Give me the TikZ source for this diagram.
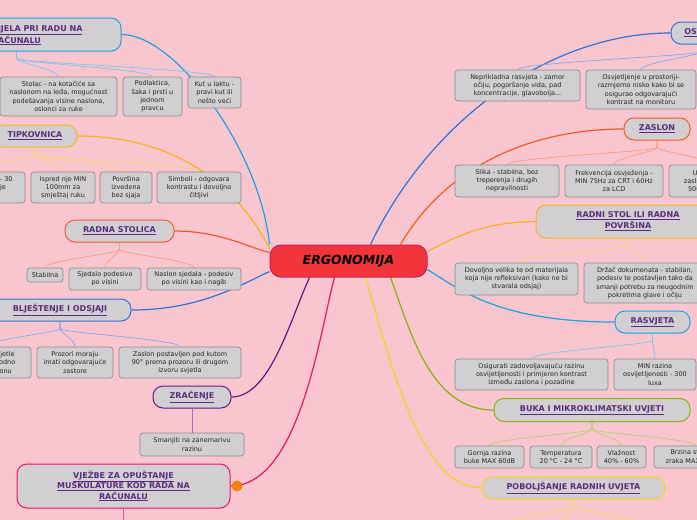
\documentclass[tikz,border=0pt]{standalone}
\usepackage{fontspec}
\setmainfont{DejaVu Sans}
\pgfdeclarelayer{background}
\pgfsetlayers{background,main}
\begin{document}
\begin{tikzpicture}[x=1pt,y=-1pt,
  leaf/.style={draw=black!45,fill=nodegray,rounded corners=3pt,line width=0.7pt,align=center,inner sep=1pt,font=\fontsize{6.5}{8.2}\selectfont,text=black!85},
  topic/.style={fill=nodegray,rounded corners=10pt,line width=1pt,align=center,inner sep=1pt,font=\fontsize{8}{11}\selectfont\bfseries,text=topictext},
  conn/.style={line width=1.2pt},
  sub/.style={line width=0.7pt}]
\definecolor{bg}{HTML}{F9C6D0}
\definecolor{nodegray}{HTML}{D1CFD1}
\definecolor{topictext}{HTML}{5C2D7E}
\definecolor{cblue}{HTML}{1BA1E2}
\definecolor{cdblue}{HTML}{2F72D8}
\definecolor{corange}{HTML}{F5B515}
\definecolor{cred}{HTML}{F55A22}
\definecolor{cpurple}{HTML}{5D1A7F}
\definecolor{cpink}{HTML}{EB1269}
\definecolor{cgreen}{HTML}{86B30A}
\definecolor{cyellow}{HTML}{F0D51C}
\newcommand\brnch[3]{\draw[sub,#1] (#2.south) -- ++(0,7) .. controls +(0,4) and +(0,-7) .. (#3.north);}
\useasboundingbox (0,0) rectangle (697,520);

% central
\node[fill={rgb,255:red,242;green,53;blue,58},draw={rgb,255:red,200;green,30;blue,90},line width=1pt,rounded corners=11pt,minimum width=157pt,minimum height=32pt,font=\fontsize{12.5}{14}\selectfont\bfseries\itshape] (erg) at (348.5,261) {ERGONOMIJA};

% topics
\node[topic,draw=cblue,minimum width=209pt,minimum height=33pt] (p1) at (16.5,34.5) {\underline{POLOŽAJ TIJELA PRI RADU NA}\\\underline{RAČUNALU}};
\node[topic,draw=corange,minimum width=84pt,minimum height=22pt] (tip) at (35,136) {\underline{TIPKOVNICA}};
\node[topic,draw=cred,minimum width=109pt,minimum height=22pt] (rs) at (119.5,231) {\underline{RADNA STOLICA}};
\node[topic,draw=cdblue,minimum width=142pt,minimum height=22pt] (bl) at (60,310) {\underline{BLJEŠTENJE I ODSJAJI}};
\node[topic,draw=cpurple,minimum width=78pt,minimum height=22pt] (zr) at (192,397) {\underline{ZRAČENJE}};
\node[topic,draw=cpink,minimum width=213pt,minimum height=44pt,font=\fontsize{8}{10.5}\selectfont\bfseries] (vj) at (123.5,486) {\underline{VJEŽBE ZA OPUŠTANJE}\\\underline{MUSKULATURE KOD RADA NA}\\\underline{RAČUNALU}};
\node[topic,draw=cdblue,minimum width=62pt,minimum height=22pt] (ost) at (702,33) {\underline{OSTALO}};
\node[topic,draw=cred,minimum width=66pt,minimum height=22pt] (zas) at (657,129) {\underline{ZASLON}};
\node[topic,draw=corange,minimum width=184pt,minimum height=33pt] (rst) at (628,221.5) {\underline{RADNI STOL ILI RADNA}\\\underline{POVRŠINA}};
\node[topic,draw=cblue,minimum width=75pt,minimum height=22pt] (ras) at (652.5,322) {\underline{RASVJETA}};
\node[topic,draw=cgreen,minimum width=196pt,minimum height=23pt] (buka) at (592,410) {\underline{BUKA I MIKROKLIMATSKI UVJETI}};
\node[topic,draw=cyellow,minimum width=183pt,minimum height=22pt] (pob) at (573.5,488) {\underline{POBOLJŠANJE RADNIH UVJETA}};

% leaves left
\node[leaf,minimum width=117pt,minimum height=39pt] (a1) at (58.5,96.5) {Stolac - na kotačiće sa\\naslonom na leđa, mogućnost\\podešavanja visine naslona,\\oslonci za ruke};
\node[leaf,minimum width=59pt,minimum height=39pt] (a2) at (152.5,96.5) {Podlaktica,\\šaka i prsti u\\jednom\\pravcu};
\node[leaf,minimum width=53pt,minimum height=31pt] (a3) at (214.5,92.5) {Kut u laktu -\\pravi kut ili\\nešto veći};
\node[leaf,minimum width=100pt,minimum height=31pt] (t1) at (-25,187.5) {Nagib tipkovnice 5 - 30\\stupnjeva ili manje\\ };
\node[leaf,minimum width=64pt,minimum height=31pt] (t2) at (63,187.5) {Ispred nje MIN\\100mm za\\smještaj ruku};
\node[leaf,minimum width=52pt,minimum height=31pt] (t3) at (126,187.5) {Površina\\izvedena\\bez sjaja};
\node[leaf,minimum width=84pt,minimum height=31pt] (t4) at (199,187.5) {Simboli - odgovara\\kontrastu i dovoljno\\čitljivi};
\node[leaf,minimum width=36pt,minimum height=14pt] (s1) at (45,275) {Stabilna};
\node[leaf,minimum width=72pt,minimum height=22pt] (s2) at (105,279) {Sjedalo podesivo\\po visini};
\node[leaf,minimum width=94pt,minimum height=22pt] (s3) at (194,279) {Naslon sjedala - podesiv\\po visini kao i nagib};
\node[leaf,minimum width=92pt,minimum height=31pt] (b1) at (-15,362.5) {Izbjegavati svjetle\\površine, pogodno\\okrenuti zaslonu};
\node[leaf,minimum width=76pt,minimum height=31pt] (b2) at (75,362.5) {Prozori moraju\\imati odgovarajuće\\zastore};
\node[leaf,minimum width=122pt,minimum height=31pt] (b3) at (180,362.5) {Zaslon postavljen pod kutom\\90° prema prozoru ili drugom\\izvoru svjetla};
\node[leaf,minimum width=104pt,minimum height=23pt] (z1) at (192,444.5) {Smanjiti na zanemarivu\\razinu};

% leaves right
\node[leaf,minimum width=125pt,minimum height=31pt] (o1) at (517.5,85.5) {Neprikladna rasvjeta - zamor\\očiju, pogoršanje vida, pad\\koncentracije, glavobolja...};
\node[leaf,minimum width=110pt,minimum height=39pt] (o2) at (641,89.5) {Osvjetljenje u prostoriji-\\razmjerno nisko kako bi se\\osigurao odgovarajući\\kontrast na monitoru};
\node[leaf,minimum width=104pt,minimum height=32pt] (c1) at (507,181) {Slika - stabilna, bez\\treperenja i drugih\\nepravilnosti};
\node[leaf,minimum width=98pt,minimum height=32pt] (c2) at (614,181) {Frekvencija osvježenja -\\MIN 75Hz za CRT i 60Hz\\za LCD};
\node[leaf,minimum width=82pt,minimum height=32pt] (c3) at (710,181) {Udaljenost\\zaslona od očiju\\500 - 700mm};
\node[leaf,minimum width=123pt,minimum height=32pt] (r1) at (516.5,279) {Dovoljno velika te od materijala\\koja nije refleksivan (kako ne bi\\stvarala odsjaj)};
\node[leaf,minimum width=122pt,minimum height=40pt] (r2) at (645,283) {Držač dokumenata - stabilan,\\podesiv te postavljen tako da\\smanji potrebu za neugodnim\\pokretima glave i očiju};
\node[leaf,minimum width=153pt,minimum height=31pt] (v1) at (531.5,374.5) {Osigurati zadovoljavajuću razinu\\osvijetljenosti i primjeren kontrast\\između zaslona i pozadine};
\node[leaf,minimum width=82pt,minimum height=31pt] (v2) at (655,374.5) {MIN razina\\osvijetljenosti - 300\\luxa};
\node[leaf,minimum width=69pt,minimum height=22pt] (k1) at (489.5,457) {Gornja razina\\buke MAX 60dB};
\node[leaf,minimum width=62pt,minimum height=22pt] (k2) at (561,457) {Temperatura\\20 °C - 24 °C};
\node[leaf,minimum width=49pt,minimum height=22pt] (k3) at (621.5,457) {Vlažnost\\40\% - 60\%};
\node[leaf,minimum width=84pt,minimum height=22pt] (k4) at (696,457) {Brzina strujanja\\zraka MAX 0,2 m/s};
\coordinate (pb1) at (505,525);
\coordinate (pb2) at (560,525);
\coordinate (pb3) at (645,525);
\coordinate (vjd) at (123.5,525);
\fill[orange!80!brown] (237,486) circle (5.5pt);

\begin{pgfonlayer}{background}
\fill[bg] (0,0) rectangle (697,520);
% main connectors
\draw[conn,cblue] (p1.east) .. controls (175,34) and (260,150) .. (erg.north west);
\draw[conn,corange] (tip.east) .. controls (180,136) and (240,190) .. ([yshift=-4pt]erg.north west);
\draw[conn,cred] (rs.east) .. controls (220,231) and (250,248) .. ([yshift=-8pt]erg.north west);
\draw[conn,cdblue] (bl.east) .. controls (200,310) and (240,285) .. ([yshift=6pt]erg.south west);
\draw[conn,cpurple] (zr.east) .. controls (270,397) and (290,320) .. ([xshift=40pt]erg.south west);
\draw[conn,cpink] (vj.east) .. controls (300,486) and (320,330) .. ([xshift=65pt]erg.south west);
\draw[conn,cdblue] (ost.west) .. controls (550,33) and (430,120) .. ([xshift=-57pt]erg.north east);
\draw[conn,cred] (zas.west) .. controls (540,129) and (450,160) .. ([xshift=-27pt]erg.north east);
\draw[conn,corange] (rst.west) .. controls (480,222) and (450,240) .. ([yshift=-7pt]erg.north east);
\draw[conn,cblue] (ras.west) .. controls (500,322) and (460,290) .. ([yshift=8pt]erg.south east);
\draw[conn,cgreen] (buka.west) .. controls (430,410) and (410,330) .. ([xshift=-37pt]erg.south east);
\draw[conn,cyellow] (pob.west) .. controls (420,488) and (390,360) .. ([xshift=-62pt]erg.south east);
% branches
\foreach \c in {a1,a2,a3} {\brnch{cblue!60}{p1}{\c}}
\foreach \c in {t1,t2,t3,t4} {\brnch{corange!60}{tip}{\c}}
\foreach \c in {s1,s2,s3} {\brnch{cred!60}{rs}{\c}}
\foreach \c in {b1,b2,b3} {\brnch{cdblue!60}{bl}{\c}}
\draw[sub,cpurple!60] (zr.south) -- (z1.north);
\draw[sub,cpink!70] (vj.south) -- (vjd);
\foreach \c in {o1,o2} {\brnch{cdblue!60}{ost}{\c}}
\foreach \c in {c1,c2,c3} {\brnch{cred!60}{zas}{\c}}
\foreach \c in {r1,r2} {\brnch{corange!60}{rst}{\c}}
\foreach \c in {v1,v2} {\brnch{cblue!60}{ras}{\c}}
\foreach \c in {k1,k2,k3,k4} {\brnch{cgreen!60}{buka}{\c}}
\foreach \c in {pb1,pb2,pb3} {\draw[sub,cyellow!80] (pob.south) -- ++(0,7) .. controls +(0,4) and +(0,-7) .. (\c);}
\end{pgfonlayer}
\end{tikzpicture}
\end{document}
